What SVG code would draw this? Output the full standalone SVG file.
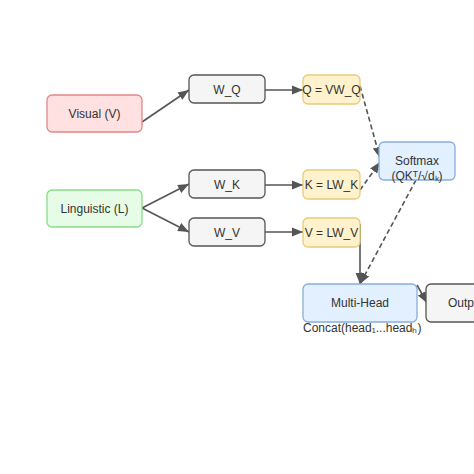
<svg xmlns="http://www.w3.org/2000/svg" width="474" height="474" viewBox="0 0 474 474">
<defs>
<style>
text{font-family:"Liberation Sans",Arial,sans-serif;font-size:12px;fill:#333;text-anchor:middle;dominant-baseline:central}
.c{stroke:#555;stroke-width:1.6;fill:none}
.d{stroke:#555;stroke-width:1.6;fill:none;stroke-dasharray:5,3}
.g{fill:#f5f5f5;stroke:#555;stroke-width:1.3}
.y{fill:#fff2cc;stroke:#e8cc78;stroke-width:1.3}
.b{fill:#e3f0ff;stroke:#88aedd;stroke-width:1.3}
</style>
<marker id="a" viewBox="0 0 10 10" refX="10" refY="5" markerWidth="11" markerHeight="11" orient="auto" markerUnits="userSpaceOnUse">
<path d="M0,1 L10,5 L0,9 z" fill="#555"/>
</marker>
</defs>
<rect width="474" height="474" fill="#fff"/>
<g id="connectors">
<line class="c" x1="142" y1="122" x2="189" y2="90" marker-end="url(#a)"/>
<line class="c" x1="142" y1="208" x2="189" y2="184" marker-end="url(#a)"/>
<line class="c" x1="142" y1="208" x2="189" y2="232" marker-end="url(#a)"/>
<line class="c" x1="265" y1="90" x2="303" y2="90" marker-end="url(#a)"/>
<line class="c" x1="265" y1="185" x2="303" y2="185" marker-end="url(#a)"/>
<line class="c" x1="265" y1="232" x2="303" y2="232" marker-end="url(#a)"/>
<line class="d" x1="360" y1="86" x2="380" y2="158" marker-end="url(#a)"/>
<line class="d" x1="360" y1="190" x2="380" y2="162" marker-end="url(#a)"/>
<line class="d" x1="416" y1="180" x2="360" y2="284" marker-end="url(#a)"/>
<line class="c" x1="360" y1="224" x2="360" y2="284" marker-end="url(#a)"/>
<line class="c" x1="417" y1="285" x2="427" y2="303" marker-end="url(#a)"/>
</g>
<g id="visual"><rect x="47" y="95" width="95" height="37" rx="5" fill="#ffe1e1" stroke="#e08888" stroke-width="1.3"/><text x="94.5" y="114">Visual (V)</text></g>
<g id="linguistic"><rect x="47" y="190" width="95" height="37" rx="5" fill="#e6fce6" stroke="#88dd88" stroke-width="1.3"/><text x="94.5" y="209">Linguistic (L)</text></g>
<g id="wq"><rect class="g" x="189" y="75" width="76" height="28" rx="5"/><text x="227" y="90">W_Q</text></g>
<g id="wk"><rect class="g" x="189" y="170" width="76" height="28" rx="5"/><text x="227" y="185">W_K</text></g>
<g id="wv"><rect class="g" x="189" y="218" width="76" height="28" rx="5"/><text x="227" y="233">W_V</text></g>
<g id="q"><rect class="y" x="303" y="75" width="57" height="29" rx="5"/><text x="331.5" y="90">Q = VW_Q</text></g>
<g id="k"><rect class="y" x="303" y="170" width="57" height="29" rx="5"/><text x="331.5" y="185">K = LW_K</text></g>
<g id="v"><rect class="y" x="303" y="218" width="57" height="29" rx="5"/><text x="331.5" y="233">V = LW_V</text></g>
<g id="softmax"><rect class="b" x="379" y="142" width="76" height="38" rx="5"/><text x="417" y="161">Softmax</text><text x="417" y="176">(QKᵀ/√dₖ)</text></g>
<g id="multihead"><rect class="b" x="303" y="284" width="114" height="38" rx="5"/><text x="360" y="303">Multi-Head</text><text x="303" y="328" style="text-anchor:start">Concat(head₁...headₕ)</text></g>
<g id="output"><rect class="g" x="426" y="284" width="80" height="38" rx="5"/><text x="466" y="303">Output</text></g>
</svg>
